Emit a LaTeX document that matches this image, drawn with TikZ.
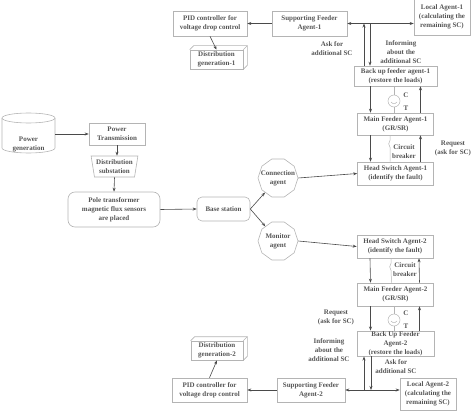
\documentclass[tikz,border=0pt]{standalone}
\usepackage{fontspec}
\setmainfont{Liberation Serif}
\usetikzlibrary{arrows.meta,shapes.geometric,positioning,calc}
\definecolor{boxgray}{HTML}{B4B4B4}
\definecolor{txtgray}{HTML}{555555}
\definecolor{arrgray}{HTML}{4A4A4A}

\begin{document}
\begin{tikzpicture}[x=1pt,y=-1pt,
    font=\fontsize{7}{9}\selectfont\bfseries,
    agentbox/.style={draw=boxgray, line width=0.6pt, fill=white, text=txtgray, align=center, inner sep=0.5pt},
    roundbox/.style={agentbox, rounded corners=5pt},
    octo/.style={draw=boxgray, line width=0.6pt, regular polygon, regular polygon sides=10, minimum size=40pt, inner sep=0pt},
    txt/.style={text=txtgray, align=center, inner sep=0pt},
    arr/.style={draw=arrgray, line width=0.6pt, -{Stealth[length=4pt,width=3pt]}},
    arrboth/.style={draw=arrgray, line width=0.6pt, {Stealth[length=4pt,width=3pt]}-{Stealth[length=4pt,width=3pt]}},
    thinline/.style={draw=boxgray, line width=0.5pt}]
  \useasboundingbox (0,0) rectangle (474,412);

  % left chain
  \draw[thinline, line width=0.6pt] (2,118) -- (2,148) arc[start angle=180, end angle=0, x radius=26.5, y radius=5] -- (55,118);
  \draw[thinline, line width=0.6pt] (28.5,118) ellipse[x radius=26.5, y radius=5];
  \node[txt, minimum width=53pt] (pg) at (28.5,144) {Power\\generation};
  \node[agentbox, minimum width=56pt, minimum height=22pt] (pt) at (117,134) {Power\\Transmission};
  \node[agentbox, trapezium, trapezium stretches=true, trapezium left angle=78, trapezium right angle=78,
        shape border rotate=180, minimum width=47pt, minimum height=21pt] (ds) at (114.5,166.5) {Distribution\\substation};
  \node[roundbox, rounded corners=7pt, minimum width=92pt, minimum height=35pt] (pole) at (114,209.5) {Pole transformer\\magnetic flux sensors\\are placed};
  \node[roundbox, minimum width=53pt, minimum height=24pt] (base) at (223.5,209) {Base station};
  \node[octo, label={[txt]center:Connection\\agent}] (conn) at (278,178) {};
  \node[octo, label={[txt]center:Monitor\\agent}] (mon) at (278,241) {};

  \draw[arr] (pg.east |- pt.west) -- (pt.west);
  \draw[arr] (pt.south) -- (pt.south |- ds.north);
  \draw[arr] (ds.south) -- (pole.north);
  \draw[arr] (pole.east) -- (base.west);
  \draw[arr] (base.east) -- (conn);
  \draw[arr] (base.east) -- (mon);

  % feeder 1
  \node[agentbox, minimum width=74pt, minimum height=25pt] (pid1) at (210,23.5) {PID controller for\\voltage drop control};
  \node[agentbox, minimum width=75pt, minimum height=25pt] (sup1) at (309.5,23.5) {Supporting Feeder\\Agent-1};
  \node[agentbox, minimum width=56pt, minimum height=36pt] (loc1) at (442,17) {Local Agent-1\\(calculating the\\remaining SC)};
  \node[agentbox, minimum width=53pt, minimum height=19pt] (dg1) at (216.5,59.5) {Distribution\\generation-1};
  \draw[thinline, line width=0.6pt] (dg1.north west) -- ++(4,-4) -| ([shift={(4,-4)}]dg1.south east) -- (dg1.south east);
  \draw[thinline, line width=0.6pt] (dg1.north east) -- ++(4,-4);
  \node[agentbox, minimum width=83pt, minimum height=20pt] (bu1) at (395.5,76) {Back up feeder agent-1\\(restore the loads)};
  \node[agentbox, minimum width=76pt, minimum height=22pt] (mf1) at (395.5,124) {Main Feeder Agent-1\\(GR/SR)};
  \node[agentbox, minimum width=76pt, minimum height=23pt] (hs1) at (395.5,173.5) {Head Switch Agent-1\\(identify the fault)};
  \node[txt] (ask1) at (332,49) {Ask for\\additional SC};
  \node[txt] (inf1) at (401,52) {Informing\\about the\\additional SC};
  \node[txt] (req1) at (453,148) {Request\\(ask for SC)};
  \node[draw=boxgray, line width=0.5pt, circle, minimum size=12pt, inner sep=0pt] (ct1) at (394,101) {};
  \node[txt] (c1) at (406,95) {C};
  \node[txt] (t1) at (406,108) {T};
  \node[txt] (cb1) at (404,152) {Circuit\\breaker};

  \draw[arr] (sup1.west) -- (pid1.east);
  \draw[arr] (pid1.south) -- (dg1.north);
  \draw[arrboth] (sup1.east) -- (sup1.east -| loc1.west);
  \coordinate (up1) at ([xshift=-31.5pt]bu1.north);
  \coordinate (dn1) at ([xshift=-25.5pt]bu1.north);
  \draw[arr] (up1) -- (up1 |- sup1.east);
  \draw[arr] (dn1 |- sup1.east) -- (dn1);
  \draw[arr] ([xshift=-25pt]bu1.south) -- ([xshift=-25pt]mf1.north);
  \draw[arr] ([xshift=25pt]mf1.north) -- ([xshift=25pt]bu1.south);
  \draw[arr] ([xshift=-25pt]mf1.south) -- ([xshift=-25pt]hs1.north);
  \draw[arr] ([xshift=25pt]hs1.north) -- ([xshift=25pt]mf1.south);
  \draw[thinline] (bu1.south -| ct1) -- (ct1.north);
  \draw[thinline] (ct1.south) -- (mf1.north -| ct1);
  \draw[thinline] ([shift={(-3,1)}]ct1.center) arc[start angle=200, end angle=340, x radius=3.2, y radius=-2.5];
  \draw[thinline] ([xshift=-5.5pt]mf1.south) -- ++(0,5) to[bend right=40] ++(0,7) -- ([xshift=-5.5pt]hs1.north);
  \draw[arr] (conn.east) -- (hs1.west);

  % feeder 2
  \node[agentbox, minimum width=76pt, minimum height=23pt] (hs2) at (395,246.5) {Head Switch Agent-2\\(identify the fault)};
  \node[agentbox, minimum width=76pt, minimum height=23pt] (mf2) at (395.5,294.5) {Main Feeder Agent-2\\(GR/SR)};
  \node[agentbox, minimum width=77pt, minimum height=24pt] (bu2) at (395.5,343.5) {Back Up Feeder\\Agent-2\\(restore the loads)};
  \node[agentbox, minimum width=56pt, minimum height=32pt] (loc2) at (428,394) {Local Agent-2\\(calculating the\\remaining SC)};
  \node[agentbox, minimum width=68pt, minimum height=24pt] (sup2) at (311,390) {Supporting Feeder\\Agent-2};
  \node[agentbox, minimum width=75pt, minimum height=24pt] (pid2) at (209.5,390) {PID controller for\\voltage drop control};
  \node[agentbox, minimum width=52pt, minimum height=19pt] (dg2) at (217,350.5) {Distribution\\generation-2};
  \draw[thinline, line width=0.6pt] (dg2.north west) -- ++(4,-4) -| ([shift={(4,-4)}]dg2.south east) -- (dg2.south east);
  \draw[thinline, line width=0.6pt] (dg2.north east) -- ++(4,-4);
  \node[txt] (cb2) at (405,270) {Circuit\\breaker};
  \node[draw=boxgray, line width=0.5pt, circle, minimum size=12pt, inner sep=0pt] (ct2) at (394,320) {};
  \node[txt] (c2) at (406,313) {C};
  \node[txt] (t2) at (406,326) {T};
  \node[txt] (req2) at (336,317) {Request\\(ask for SC)};
  \node[txt] (inf2) at (329,350) {Informing\\about the\\additional SC};
  \node[txt] (ask2) at (396,367) {Ask for\\additional SC};

  \draw[arr] (mon.east) -- (hs2.west);
  \draw[arr] ([xshift=-25pt]hs2.south) -- ([xshift=-25pt]mf2.north);
  \draw[arr] ([xshift=24pt]mf2.north) -- ([xshift=24pt]hs2.south);
  \draw[arr] ([xshift=-25pt]mf2.south) -- ([xshift=-25pt]bu2.north);
  \draw[arr] ([xshift=24pt]bu2.north) -- ([xshift=24pt]mf2.south);
  \draw[thinline] ([xshift=-4pt]hs2.south) -- ++(0,5) to[bend right=40] ++(0,7) -- ([xshift=-4pt]mf2.north);
  \draw[thinline] (mf2.south -| ct2) -- (ct2.north);
  \draw[thinline] (ct2.south) -- (bu2.north -| ct2);
  \draw[thinline] ([shift={(-3,1)}]ct2.center) arc[start angle=200, end angle=340, x radius=3.2, y radius=-2.5];
  \draw[arrboth] (loc2.west |- sup2.east) -- (sup2.east);
  \coordinate (up2) at ([xshift=-31.5pt]bu2.south);
  \coordinate (dn2) at ([xshift=-24.5pt]bu2.south);
  \draw[arr] (up2 |- sup2.east) -- (up2);
  \draw[arr] (dn2) -- (dn2 |- sup2.east);
  \draw[arr] (sup2.west) -- (pid2.east);
  \draw[arr] (pid2.north) -- (dg2.south);
\end{tikzpicture}
\end{document}
